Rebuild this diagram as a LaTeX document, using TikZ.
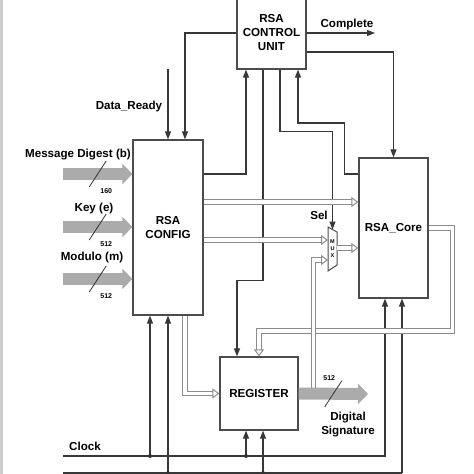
\documentclass[tikz,border=0pt]{standalone}
\usepackage{fontspec}
\setmainfont{Liberation Sans}
\usetikzlibrary{arrows.meta}

\tikzset{
  block/.style={draw=black!70, line width=1.2pt, fill=white, align=center, inner sep=0pt},
  sig/.style={draw=black!78, line width=1.1pt, -{Triangle[length=8pt,width=6pt]}},
  wire/.style={draw=black!78, line width=1.1pt},
  bus/.style={draw=black!45, double=white, double distance=3.2pt, line width=1pt, -{Triangle[open,length=7pt,width=10pt]}},
  wide/.style={draw=black!33, line width=12pt, -{Triangle[length=10pt,width=20pt]}},
  slash/.style={draw=black!80, line width=0.8pt},
  dot/.style={circle, fill=black!80, inner sep=0pt, minimum size=4pt},
  lbl/.style={align=center},
  tiny/.style={font=\fontsize{7}{8}\selectfont\bfseries},
}

\begin{document}
\begin{tikzpicture}[x=1pt, y=-1pt, font=\fontsize{11.6}{14}\selectfont\bfseries]
\useasboundingbox (0,0) rectangle (474,474);
\fill[black!20] (0,0) rectangle (2.5,474);

% blocks
\node[block, minimum width=69pt, minimum height=72pt] (cu) at (271.5,33) {RSA\\CONTROL\\UNIT};
\node[block, minimum width=70pt, minimum height=175pt] (config) at (168,227.5) {RSA\\CONFIG};
\node[block, minimum width=69pt, minimum height=140pt] (core) at (393.5,228) {RSA\_Core};
\node[block, minimum width=78pt, minimum height=73pt] (reg) at (259,393.5) {REGISTER};

% mux
\draw[draw=black!70, line width=1pt, fill=white] (328,227) -- (337,232) -- (337,265) -- (328,271) -- cycle;
\node[font=\fontsize{5.5}{7}\selectfont\bfseries, align=center] (mux) at (332.5,248.5) {M\\U\\X};
\coordinate (muxsel) at (332.5,229.5);
\coordinate (muxa) at (328,240);
\coordinate (muxb) at (328,260);
\coordinate (muxo) at (337,248);

% free ends
\coordinate (dr) at (168,69);
\coordinate (cpl) at (375,33);
\coordinate (md) at (63,174);
\coordinate (key) at (63,227);
\coordinate (mod) at (63,279);
\coordinate (clk) at (63,456);
\coordinate (rst) at (63,473);
\coordinate (dsig) at (368,394);

% control lines
\draw[sig] (dr) -- (config.north);
\draw[sig] (cu.west) -| ([xshift=17pt]config.north);
\draw[sig] (cu.east) -- (cpl);
\draw[sig] ([yshift=-19pt]cu.east) -| (core.north);
\draw[sig] ([yshift=53.5pt]config.east) -| ([xshift=-25.5pt]cu.south);
\draw[sig] ([xshift=-8.5pt]cu.south) -- ++(0,211) -| ([xshift=-22pt]reg.north);
\draw[sig] ([xshift=8.5pt]cu.south) -- ++(0,62) -| (muxsel);
\draw[sig] ([yshift=54pt]core.west) -- ++(-14,0) -- ++(0,-51) -| ([xshift=26.5pt]cu.south);

% clock and reset
\coordinate (cfgc) at ([xshift=-18pt]config.south);
\coordinate (cfgr) at (config.south);
\coordinate (regc) at ([xshift=-13pt]reg.south);
\coordinate (regr) at ([xshift=4pt]reg.south);
\coordinate (corec) at ([xshift=-8.5pt]core.south);
\coordinate (corer) at ([xshift=8.5pt]core.south);
\draw[sig] (clk) -| (corec);
\draw[wire, line width=2.4pt] (rst) -- (rst -| corer);
\draw[sig] (rst -| corer) -- (corer);
\foreach \b/\l in {cfgc/clk, regc/clk, cfgr/rst, regr/rst}
  \draw[sig] (\b |- \l) node[dot] {} -- (\b);

% buses
\draw[bus] ([yshift=25.5pt]config.east) -- ([yshift=26pt]core.west);
\draw[bus] ([yshift=-12.5pt]config.east) -- (muxa);
\draw[bus] (muxo) -- (muxo -| core.west);
\draw[bus] (core.east) -- ++(24,0) -- ++(0,103) -| (reg.north);
\draw[bus] ([xshift=17pt]config.south) |- (reg.west);
\coordinate (fb) at ([xshift=15pt]reg.east);
\draw[bus] (fb) |- (muxb);

% wide data paths
\draw[wide] (md) -- coordinate (mdm) (md -| config.west);
\draw[wide] (key) -- coordinate (keym) (key -| config.west);
\draw[wide] (mod) -- coordinate (modm) (mod -| config.west);
\draw[wide] (reg.east) -- coordinate (dsigm) (dsig);
\foreach \m in {mdm, keym, modm, dsigm}
  \draw[slash] ([shift={(-8.5,13)}]\m) -- ([shift={(8.5,-13)}]\m);
\node[tiny] (mdw) at ([shift={(8.5,17)}]mdm) {160};
\node[tiny] (keyw) at ([shift={(8.5,17)}]keym) {512};
\node[tiny] (modw) at ([shift={(8.5,17)}]modm) {512};
\node[tiny] (dsigw) at ([shift={(-4,-16)}]dsigm) {512};

% labels
\node (mdlbl) at (78,155) {Message Digest (b)};
\node (keylbl) at (94,208) {Key (e)};
\node (modlbl) at (92,257) {Modulo (m)};
\node (drlbl) at (129,106) {Data\_Ready};
\node (cpllbl) at (347,24) {Complete};
\node (sellbl) at (319,215) {Sel};
\node (clklbl) at (85,446) {Clock};
\node[lbl] (dsiglbl) at (348,424.5) {Digital\\Signature};
\end{tikzpicture}
\end{document}
